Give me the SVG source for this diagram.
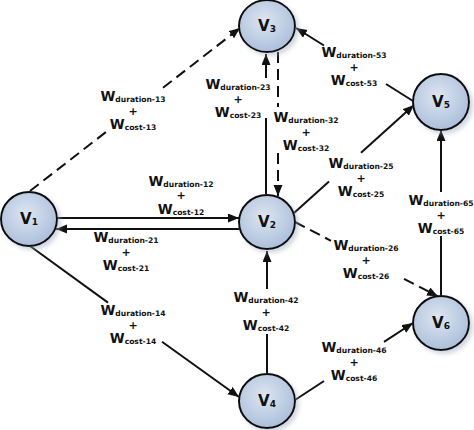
<svg xmlns="http://www.w3.org/2000/svg" width="474" height="430" viewBox="0 0 474 430">
<style>
.node ellipse{fill:url(#g);stroke:#111;stroke-width:2;filter:url(#sh)}
.nl{font-family:"DejaVu Sans","Liberation Sans",sans-serif;font-weight:bold;font-size:15px;fill:#111;text-anchor:middle}
.nl tspan{font-size:9px}
.e{stroke:#111;stroke-width:2;fill:none}
.d{stroke-dasharray:11 6}
.lb{font-family:"DejaVu Sans","Liberation Sans",sans-serif;font-weight:bold;fill:#111;text-anchor:middle;font-size:13.5px}
.lb tspan{font-size:7.6px}
.pl{font-family:"DejaVu Sans","Liberation Sans",sans-serif;font-weight:bold;fill:#111;text-anchor:middle;font-size:11px}
</style>
<defs>
<radialGradient id="g" cx="0.45" cy="0.4" r="0.65">
<stop offset="0" stop-color="#dde6f2"/>
<stop offset="1" stop-color="#a8bcd8"/>
</radialGradient>
<filter id="sh" x="-30%" y="-30%" width="160%" height="160%">
<feDropShadow dx="3" dy="3" stdDeviation="2" flood-color="#9aa6bb" flood-opacity="0.45"/>
</filter>
<marker id="a" markerUnits="userSpaceOnUse" markerWidth="12" markerHeight="10" refX="11" refY="4.5" orient="auto">
<path d="M0,0 L11,4.5 L0,9 z" fill="#111"/>
</marker>
</defs>
<rect width="474" height="430" fill="#fff"/>
<g id="connectors">
<line class="e d" x1="30" y1="191" x2="108" y2="130.5"/>
<line class="e d" x1="163" y1="87.8" x2="240" y2="28" marker-end="url(#a)"/>
<line class="e" x1="57" y1="218" x2="239" y2="218" marker-end="url(#a)"/>
<line class="e" x1="239" y1="229" x2="56" y2="229" marker-end="url(#a)"/>
<line class="e" x1="266" y1="194" x2="266" y2="118"/>
<line class="e" x1="266" y1="78" x2="266" y2="54" marker-end="url(#a)"/>
<line class="e d" x1="278" y1="52" x2="278" y2="107"/>
<line class="e d" x1="278" y1="153" x2="278" y2="196" marker-end="url(#a)"/>
<line class="e" x1="413" y1="101" x2="386" y2="84"/>
<line class="e" x1="324" y1="45.5" x2="296" y2="28" marker-end="url(#a)"/>
<line class="e" x1="294" y1="213" x2="329" y2="181.5"/>
<line class="e" x1="361" y1="152.8" x2="414" y2="105" marker-end="url(#a)"/>
<line class="e" x1="441" y1="295" x2="441" y2="236"/>
<line class="e" x1="441" y1="192" x2="441" y2="130" marker-end="url(#a)"/>
<line class="e d" x1="295" y1="222" x2="331" y2="240.8"/>
<line class="e d" x1="404" y1="278.8" x2="438" y2="296.5" marker-end="url(#a)"/>
<line class="e" x1="267" y1="373" x2="267" y2="334"/>
<line class="e" x1="267" y1="289" x2="267" y2="251" marker-end="url(#a)"/>
<line class="e" x1="295" y1="400" x2="324" y2="381"/>
<line class="e" x1="384" y1="341.8" x2="413" y2="323" marker-end="url(#a)"/>
<line class="e" x1="30" y1="246" x2="108" y2="302.6"/>
<line class="e" x1="162" y1="341.8" x2="239" y2="397" marker-end="url(#a)"/>
</g>
<g id="labels">
<text class="lb" x="133" y="101">W<tspan dy="1">duration-13</tspan></text>
<text class="pl" x="133" y="114.5">+</text>
<text class="lb" x="133" y="129.3">W<tspan dy="1">cost-13</tspan></text>

<text class="lb" x="181" y="185.5">W<tspan dy="1">duration-12</tspan></text>
<text class="pl" x="181" y="199">+</text>
<text class="lb" x="181" y="213.8">W<tspan dy="1">cost-12</tspan></text>

<text class="lb" x="126" y="242">W<tspan dy="1">duration-21</tspan></text>
<text class="pl" x="126" y="255.5">+</text>
<text class="lb" x="126" y="270.3">W<tspan dy="1">cost-21</tspan></text>

<text class="lb" x="133" y="315">W<tspan dy="1">duration-14</tspan></text>
<text class="pl" x="133" y="328.5">+</text>
<text class="lb" x="133" y="343.3">W<tspan dy="1">cost-14</tspan></text>

<text class="lb" x="238" y="89">W<tspan dy="1">duration-23</tspan></text>
<text class="pl" x="238" y="102.5">+</text>
<text class="lb" x="238" y="117.3">W<tspan dy="1">cost-23</tspan></text>

<text class="lb" x="306" y="122">W<tspan dy="1">duration-32</tspan></text>
<text class="pl" x="306" y="135.5">+</text>
<text class="lb" x="306" y="150.3">W<tspan dy="1">cost-32</tspan></text>

<text class="lb" x="354" y="57">W<tspan dy="1">duration-53</tspan></text>
<text class="pl" x="354" y="70.5">+</text>
<text class="lb" x="354" y="85.3">W<tspan dy="1">cost-53</tspan></text>

<text class="lb" x="361" y="168">W<tspan dy="1">duration-25</tspan></text>
<text class="pl" x="361" y="181.5">+</text>
<text class="lb" x="361" y="196.3">W<tspan dy="1">cost-25</tspan></text>

<text class="lb" x="441" y="205">W<tspan dy="1">duration-65</tspan></text>
<text class="pl" x="441" y="218.5">+</text>
<text class="lb" x="441" y="233.3">W<tspan dy="1">cost-65</tspan></text>

<text class="lb" x="366" y="250">W<tspan dy="1">duration-26</tspan></text>
<text class="pl" x="366" y="263.5">+</text>
<text class="lb" x="366" y="278.3">W<tspan dy="1">cost-26</tspan></text>

<text class="lb" x="266" y="302">W<tspan dy="1">duration-42</tspan></text>
<text class="pl" x="266" y="315.5">+</text>
<text class="lb" x="266" y="330.3">W<tspan dy="1">cost-42</tspan></text>

<text class="lb" x="354" y="352">W<tspan dy="1">duration-46</tspan></text>
<text class="pl" x="354" y="365.5">+</text>
<text class="lb" x="354" y="380.3">W<tspan dy="1">cost-46</tspan></text>
</g>
<g id="V1" class="node"><ellipse cx="29" cy="219" rx="28" ry="27"/><text class="nl" x="29" y="224">V<tspan dy="1">1</tspan></text></g>
<g id="V2" class="node"><ellipse cx="267" cy="222" rx="28" ry="27"/><text class="nl" x="267" y="227">V<tspan dy="1">2</tspan></text></g>
<g id="V3" class="node"><ellipse cx="267" cy="26" rx="28" ry="26"/><text class="nl" x="267" y="31">V<tspan dy="1">3</tspan></text></g>
<g id="V4" class="node"><ellipse cx="267" cy="401" rx="28" ry="27"/><text class="nl" x="267" y="406">V<tspan dy="1">4</tspan></text></g>
<g id="V5" class="node"><ellipse cx="441" cy="102" rx="28" ry="28"/><text class="nl" x="441" y="107">V<tspan dy="1">5</tspan></text></g>
<g id="V6" class="node"><ellipse cx="441" cy="323" rx="28" ry="27"/><text class="nl" x="441" y="328">V<tspan dy="1">6</tspan></text></g>
</svg>
